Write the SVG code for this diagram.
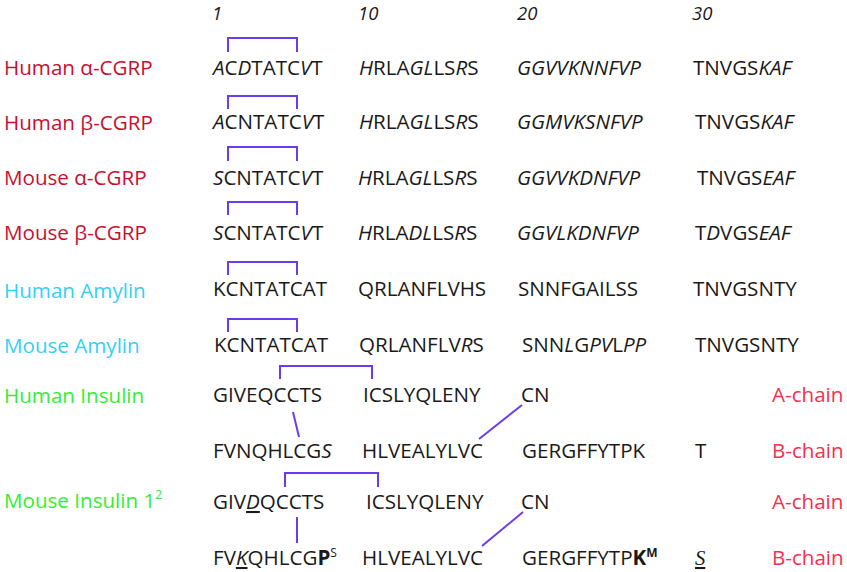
<svg xmlns="http://www.w3.org/2000/svg" width="847" height="572" viewBox="0 0 847 572">
<style>
text { font-family: "Open Sans", "Noto Sans", sans-serif; font-size: 20.6px; }
.seq { fill: #1a1a1a; }
.num { fill: #1a1a1a; font-style: italic; font-size: 18.5px; }
.i { font-style: italic; }
.b { font-weight: bold; }
.u { text-decoration: underline; }
.cgrp { fill: #c8102e; }
.amy { fill: #33d1f5; }
.ins { fill: #33ee33; }
.chain { fill: #f5304f; }
.sup { font-size: 12px; }
.serif { font-family: "Liberation Serif", serif; }
.bond { fill: none; stroke: #6a3cf0; stroke-width: 2; }
</style>
<rect width="847" height="572" fill="#ffffff"/>
<g id="header">
<text class="num" x="212" y="20">1</text>
<text class="num" x="358" y="20">10</text>
<text class="num" x="517" y="20">20</text>
<text class="num" x="692" y="20">30</text>
</g>
<g id="human-alpha-cgrp">
<text class="cgrp" x="4" y="75">Human α-CGRP</text>
<text class="seq" x="213" y="75"><tspan class="i">A</tspan>C<tspan class="i">D</tspan>TATC<tspan class="i">V</tspan>T</text>
<text class="seq" x="359" y="75"><tspan class="i">H</tspan>RLA<tspan class="i">GL</tspan>LS<tspan class="i">R</tspan>S</text>
<text class="seq i" x="517" y="75">GGVVKNNFVP</text>
<text class="seq" x="693" y="75">TNVGS<tspan class="i">KAF</tspan></text>
</g>
<g id="human-beta-cgrp">
<text class="cgrp" x="4" y="130">Human β-CGRP</text>
<text class="seq" x="213" y="129"><tspan class="i">A</tspan>CNTATC<tspan class="i">V</tspan>T</text>
<text class="seq" x="359" y="129"><tspan class="i">H</tspan>RLA<tspan class="i">GL</tspan>LS<tspan class="i">R</tspan>S</text>
<text class="seq i" x="517" y="129">GGMVKSNFVP</text>
<text class="seq" x="695" y="129">TNVGS<tspan class="i">KAF</tspan></text>
</g>
<g id="mouse-alpha-cgrp">
<text class="cgrp" x="4" y="185">Mouse α-CGRP</text>
<text class="seq" x="213" y="185"><tspan class="i">S</tspan>CNTATC<tspan class="i">V</tspan>T</text>
<text class="seq" x="358" y="185"><tspan class="i">H</tspan>RLA<tspan class="i">GL</tspan>LS<tspan class="i">R</tspan>S</text>
<text class="seq i" x="517" y="185">GGVVKDNFVP</text>
<text class="seq" x="697" y="185">TNVGS<tspan class="i">EAF</tspan></text>
</g>
<g id="mouse-beta-cgrp">
<text class="cgrp" x="4" y="240">Mouse β-CGRP</text>
<text class="seq" x="213" y="240"><tspan class="i">S</tspan>CNTATC<tspan class="i">V</tspan>T</text>
<text class="seq" x="358" y="240"><tspan class="i">H</tspan>RLA<tspan class="i">DL</tspan>LS<tspan class="i">R</tspan>S</text>
<text class="seq i" x="517" y="240">GGVLKDNFVP</text>
<text class="seq" x="695" y="240">T<tspan class="i">D</tspan>VGS<tspan class="i">EAF</tspan></text>
</g>
<g id="human-amylin">
<text class="amy" x="4" y="298">Human Amylin</text>
<text class="seq" x="213" y="296">KCNTATCAT</text>
<text class="seq" x="358" y="296">QRLANFLVHS</text>
<text class="seq" x="518" y="296">SNNFGAILSS</text>
<text class="seq" x="693" y="296">TNVGSNTY</text>
</g>
<g id="mouse-amylin">
<text class="amy" x="4" y="353">Mouse Amylin</text>
<text class="seq" x="214" y="352">KCNTATCAT</text>
<text class="seq" x="359" y="352">QRLANFLV<tspan class="i">R</tspan>S</text>
<text class="seq" x="522" y="352">SNN<tspan class="i">L</tspan>G<tspan class="i">PV</tspan>L<tspan class="i">PP</tspan></text>
<text class="seq" x="695" y="352">TNVGSNTY</text>
</g>
<g id="human-insulin">
<text class="ins" x="4" y="403">Human Insulin</text>
<text class="seq" x="213" y="402">GIVEQCCTS</text>
<text class="seq" x="363" y="402">ICSLYQLENY</text>
<text class="seq" x="521" y="402">CN</text>
<text class="chain" x="772" y="402">A-chain</text>
<text class="seq" x="213" y="458">FVNQHLCG<tspan class="i">S</tspan></text>
<text class="seq" x="362" y="458">HLVEALYLVC</text>
<text class="seq" x="522" y="458">GERGFFYTPK</text>
<text class="seq" x="695" y="458">T</text>
<text class="chain" x="772" y="458">B-chain</text>
</g>
<g id="mouse-insulin">
<text class="ins" x="4" y="508">Mouse Insulin 1<tspan class="sup" dy="-9">2</tspan></text>
<text class="seq" x="213" y="509">GIV<tspan class="i u">D</tspan>QCCTS</text>
<text class="seq" x="366" y="509">ICSLYQLENY</text>
<text class="seq" x="521" y="509">CN</text>
<text class="chain" x="772" y="509">A-chain</text>
<text class="seq" x="213" y="565">FV<tspan class="i u">K</tspan>QHLCG<tspan class="b">P</tspan><tspan class="sup" dy="-8">S</tspan></text>
<text class="seq" x="362" y="565">HLVEALYLVC</text>
<text class="seq" x="522" y="565">GERGFFYTP<tspan class="b">K</tspan><tspan class="sup b" dy="-8">M</tspan></text>
<text class="seq serif i u" x="695" y="565">S</text>
<text class="chain" x="772" y="565">B-chain</text>
</g>
<g id="connectors">
<polyline class="bond" points="228,52 228,38 297,38 297,52"/>
<polyline class="bond" points="228,109 228,96 297,96 297,109"/>
<polyline class="bond" points="228,161 228,147 297,147 297,161"/>
<polyline class="bond" points="228,215 228,202 297,202 297,215"/>
<polyline class="bond" points="228,275 228,262 297,262 297,275"/>
<polyline class="bond" points="228,332 228,319 297,319 297,332"/>
<polyline class="bond" points="280,379 280,366 372,366 372,379"/>
<line class="bond" x1="293" y1="412" x2="299" y2="437"/>
<line class="bond" x1="479" y1="439" x2="522" y2="405"/>
<polyline class="bond" points="285,487 285,473 378,473 378,487"/>
<line class="bond" x1="297" y1="517" x2="297" y2="543"/>
<line class="bond" x1="482" y1="546" x2="523" y2="512"/>
</g>
</svg>
